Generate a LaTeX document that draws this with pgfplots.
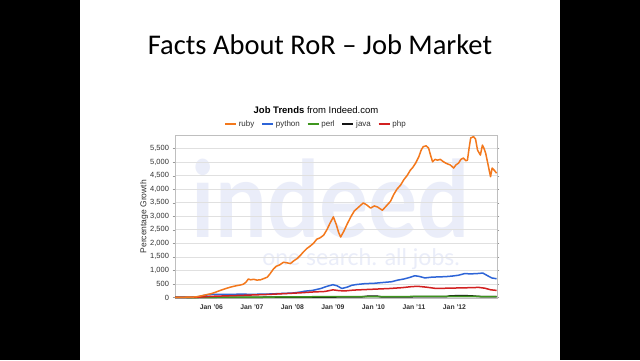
\documentclass[border=0pt]{standalone}
\usepackage{fontspec}
\setmainfont{Liberation Sans}
\newfontfamily\carlito{Carlito}
\newfontfamily\latofont{Lato}
\usepackage{graphicx}
\usepackage{pgfplots}
\pgfplotsset{compat=1.18}
\usepackage{pgfplotstable}

\definecolor{rubyc}{RGB}{243,120,28}
\definecolor{pythonc}{RGB}{45,100,215}
\definecolor{perlc}{RGB}{62,150,30}
\definecolor{javac}{RGB}{20,20,20}
\definecolor{phpc}{RGB}{210,32,32}
\definecolor{wmark}{RGB}{234,237,249}
\definecolor{txtc}{RGB}{50,50,50}

\pgfplotstableread{
year val
2005.10 0
2005.30 5
2005.50 10
2005.62 20
2005.72 50
2005.80 75
2005.90 110
2006.00 140
2006.08 180
2006.15 220
2006.22 260
2006.30 300
2006.38 340
2006.47 380
2006.55 410
2006.64 440
2006.72 460
2006.79 490
2006.85 560
2006.91 680
2006.97 650
2007.04 670
2007.12 640
2007.21 650
2007.30 700
2007.38 750
2007.45 880
2007.53 1050
2007.60 1150
2007.68 1200
2007.78 1300
2007.86 1280
2007.95 1250
2008.03 1350
2008.12 1440
2008.20 1560
2008.27 1680
2008.35 1800
2008.44 1900
2008.52 2000
2008.60 2150
2008.68 2200
2008.77 2300
2008.85 2500
2008.93 2750
2009.01 2975
2009.08 2700
2009.14 2400
2009.19 2230
2009.27 2450
2009.36 2740
2009.45 3000
2009.53 3200
2009.60 3290
2009.68 3400
2009.75 3490
2009.83 3420
2009.93 3300
2010.02 3380
2010.10 3340
2010.22 3220
2010.30 3350
2010.42 3550
2010.50 3800
2010.58 4000
2010.67 4150
2010.75 4350
2010.83 4500
2010.91 4700
2010.97 4800
2011.04 4960
2011.12 5200
2011.18 5450
2011.23 5570
2011.30 5600
2011.36 5520
2011.42 5200
2011.46 5010
2011.52 5100
2011.58 5070
2011.65 5100
2011.73 5010
2011.80 4950
2011.90 4890
2011.98 4780
2012.04 4900
2012.10 4960
2012.16 5100
2012.22 5150
2012.28 5050
2012.32 5070
2012.36 5500
2012.40 5890
2012.47 5940
2012.52 5850
2012.57 5440
2012.64 5260
2012.69 5630
2012.73 5500
2012.77 5330
2012.83 4900
2012.89 4460
2012.93 4780
2012.98 4700
2013.04 4590
}\ruby

\pgfplotstableread{
year val
2005.10 0
2005.50 5
2005.70 30
2005.80 70
2005.95 105
2006.10 115
2006.40 110
2006.70 120
2007.00 115
2007.30 120
2007.50 130
2007.80 150
2008.00 160
2008.20 200
2008.30 230
2008.50 260
2008.70 330
2008.85 410
2009.00 470
2009.10 430
2009.22 330
2009.35 380
2009.47 450
2009.60 480
2009.80 510
2010.00 520
2010.15 540
2010.30 560
2010.45 580
2010.60 640
2010.75 680
2010.90 740
2011.02 800
2011.12 780
2011.27 720
2011.45 750
2011.65 760
2011.80 770
2011.95 790
2012.10 820
2012.25 880
2012.40 870
2012.55 880
2012.70 900
2012.82 800
2012.92 720
2013.04 690
}\python

\pgfplotstableread{
year val
2005.10 0
2005.60 5
2005.80 20
2006.00 40
2006.20 50
2006.60 70
2007.00 90
2007.40 110
2007.80 140
2008.20 170
2008.50 200
2008.80 220
2009.00 280
2009.15 250
2009.30 240
2009.50 270
2009.80 290
2010.10 310
2010.40 330
2010.70 360
2010.95 400
2011.10 410
2011.30 380
2011.55 330
2011.80 340
2012.10 350
2012.40 360
2012.60 370
2012.75 340
2012.90 280
2013.04 260
}\php

\pgfplotstableread{
year val
2005.10 0
2005.60 -5
2006.00 5
2006.50 10
2007.00 15
2007.50 15
2008.00 20
2008.50 25
2009.00 30
2009.50 30
2010.00 25
2010.50 30
2011.00 35
2011.50 35
2012.00 40
2012.50 35
2013.04 30
}\perl

\pgfplotstableread{
year val
2005.10 0
2006.00 0
2007.00 5
2008.00 10
2009.00 15
2009.70 20
2009.85 45
2010.10 45
2010.20 20
2011.00 25
2011.80 30
2011.90 60
2012.20 65
2012.40 60
2012.60 35
2013.04 25
}\java

\begin{document}
\begin{tikzpicture}[x=1pt,y=1pt]
% slide background
\fill[black] (0,0) rectangle (640,360);
\fill[white] (80,0) rectangle (560,360);
% slide title
\node[font={\carlito\fontsize{28.5}{32}\selectfont}, text=black] at (320,315) {Facts About RoR – Job Market};
% watermark (one block)
\node[text=wmark, anchor=south east, inner sep=0pt] at (470,90.5) {\vbox{\halign{\hfil#\cr
  {\latofont\bfseries\fontsize{92}{92}\selectfont\scalebox{1}[1.15]{indeed}}\cr
  \noalign{\vskip 9pt}
  {\latofont\fontsize{23}{27}\selectfont one search. all jobs.\hspace{10pt}}\cr}}};
% chart title
\node[font={\fontsize{9.5}{11}\selectfont}, text=black] at (316,249.5) {\textbf{Job Trends} from Indeed.com};
\begin{axis}[
  at={(175pt,61.5pt)}, anchor=south west,
  scale only axis, width=322pt, height=163.5pt,
  xmin=2005.1, xmax=2013.05,
  ymin=-40, ymax=6000,
  xtick={2006,2007,2008,2009,2010,2011,2012},
  xticklabels={Jan '06,Jan '07,Jan '08,Jan '09,Jan '10,Jan '11,Jan '12},
  ytick={0,500,...,5500},
  scaled y ticks=false,
  /pgf/number format/.cd, 1000 sep={,}, assume math mode=true, /pgfplots/.cd,
  ymajorgrids, grid style={color=black!12, line width=0.5pt},
  axis line style={color=black!25, line width=0.6pt},
  tick align=outside, major tick length=2.5pt,
  tick style={color=black!40},
  xtick style={draw=none},
  ticklabel style={font={\fontsize{7.5}{8}\selectfont}, text=txtc},
  xticklabel style={font={\bfseries\fontsize{6.8}{8}\selectfont}, text=txtc},
  ylabel={Percentage Growth},
  ylabel style={at={(axis description cs:-0.096,0.5)}, anchor=center, font={\fontsize{8.5}{10}\selectfont}, text=txtc},
  legend columns=5,
  legend style={at={(0.438,1.066)}, anchor=center, draw=none, fill=none,
    font={\fontsize{8}{9}\selectfont}, text=txtc,
    /tikz/every even column/.append style={column sep=5pt}, inner sep=0pt},
  legend image code/.code={\draw[#1, line width=1.5pt] (0pt,0pt) -- (11pt,0pt);},
  every axis plot/.append style={line width=1.5pt, line join=round},
]
\addlegendimage{rubyc}
\addlegendimage{pythonc}
\addlegendimage{perlc}
\addlegendimage{javac}
\addlegendimage{phpc}
\addplot[javac, forget plot] table[x=year,y=val] {\java};
\addplot[perlc, forget plot] table[x=year,y=val] {\perl};
\addplot[pythonc, forget plot] table[x=year,y=val] {\python};
\addplot[phpc, forget plot] table[x=year,y=val] {\php};
\addplot[rubyc, forget plot] table[x=year,y=val] {\ruby};
\legend{ruby,python,perl,java,php}
\end{axis}
\end{tikzpicture}
\end{document}
